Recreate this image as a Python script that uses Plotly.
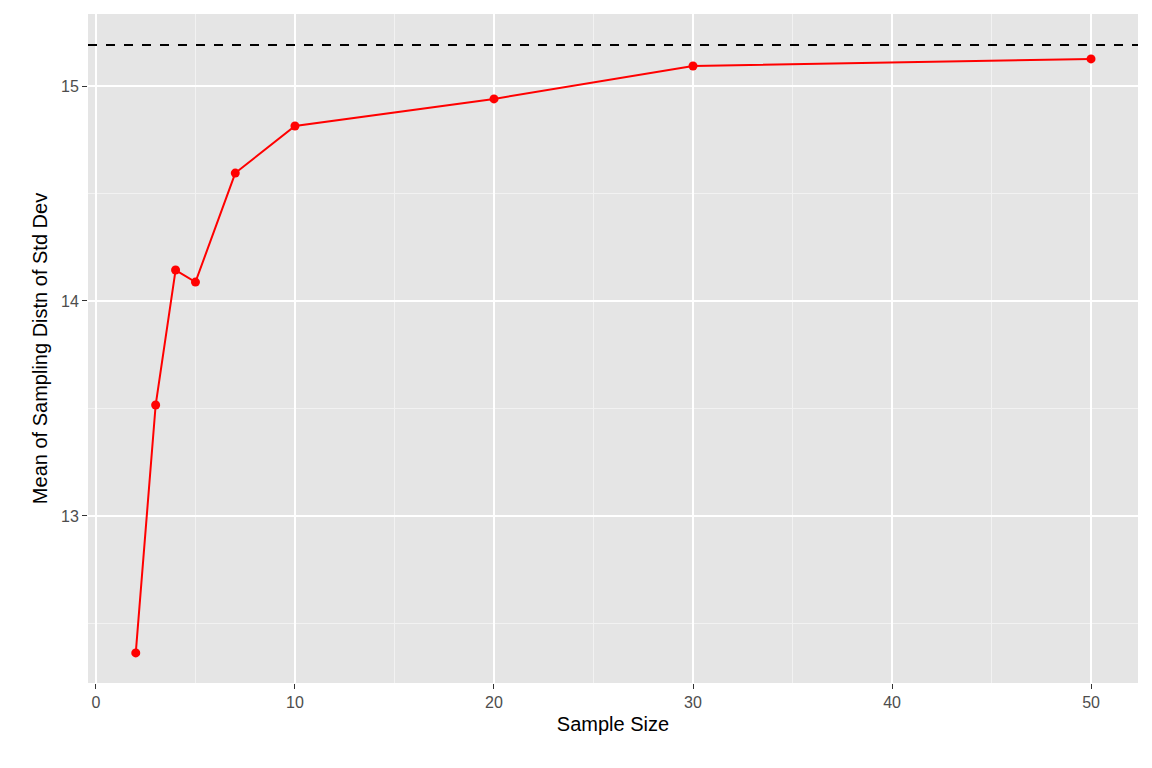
import plotly.graph_objects as go

sample_size = [2, 3, 4, 5, 7, 10, 20, 30, 50]
mean_sd = [12.363, 13.516, 14.144, 14.088, 14.595, 14.814, 14.940, 15.093, 15.126]
true_sd = 15.191

fig = go.Figure()
fig.add_trace(go.Scatter(x=sample_size, y=mean_sd, mode="lines+markers",
                         line=dict(color="red", width=2), marker=dict(color="red", size=9),
                         showlegend=False))
fig.add_hline(y=true_sd, line=dict(color="black", width=2, dash="dash"))

axis_common = dict(showgrid=True, gridcolor="white", gridwidth=1.6, zeroline=False,
                   ticks="outside", ticklen=5, tickcolor="#333333",
                   tickfont=dict(family="Liberation Sans, Arial", size=16, color="#4d4d4d"),
                   minor=dict(showgrid=True, gridcolor="#f2f2f2", gridwidth=0.8))
fig.update_layout(
    width=1136, height=752, paper_bgcolor="white", plot_bgcolor="#e5e5e5",
    margin=dict(l=80, r=6, t=6, b=77),
    font=dict(family="Liberation Sans, Arial", color="black"),
    xaxis=dict(range=[-0.4, 52.36], tickvals=[0, 10, 20, 30, 40, 50],
               title=dict(text="Sample Size", font=dict(size=20), standoff=6), **axis_common),
    yaxis=dict(range=[12.223, 15.335], tickvals=[13, 14, 15],
               title=dict(text="Mean of Sampling Distn of Std Dev", font=dict(size=20), standoff=8),
               **axis_common),
)
fig.update_xaxes(minor=dict(tickvals=[5, 15, 25, 35, 45], ticks=""))
fig.update_yaxes(minor=dict(tickvals=[12.5, 13.5, 14.5], ticks=""))
fig.write_html("out.html")
